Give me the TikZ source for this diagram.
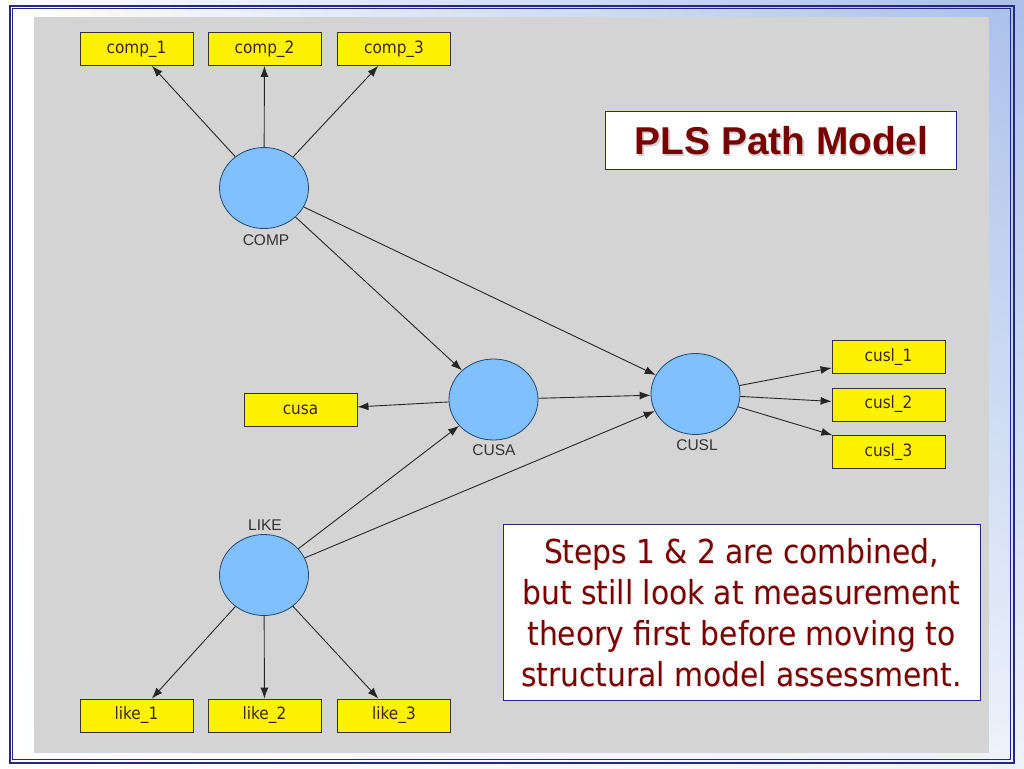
\documentclass[tikz,border=0pt]{standalone}
\usepackage{fontspec}
\setmainfont{Liberation Sans}
\newfontfamily\tah{DejaVu Sans Condensed}
\usetikzlibrary{arrows.meta,shapes.geometric,shadings}
\definecolor{navy}{RGB}{40,40,125}
\definecolor{panel}{RGB}{212,212,212}
\definecolor{darkred}{RGB}{120,0,0}
\definecolor{latent}{RGB}{128,192,255}
\definecolor{latentline}{RGB}{30,70,110}
\definecolor{slideblue}{RGB}{170,192,234}
\definecolor{itemtext}{RGB}{60,40,0}
\tikzset{
 item/.style={draw=black!80, line width=0.8pt, fill=yellow, minimum width=113pt, minimum height=33pt, inner sep=0pt, font=\tah\fontsize{17}{20}\selectfont, text=itemtext},
 lv/.style={ellipse, draw=latentline, line width=0.8pt, fill=latent, minimum width=89pt, minimum height=81pt, inner sep=0pt},
 lvlabel/.style={font=\fontsize{15.5}{18}\selectfont, text=black!80, inner sep=0pt},
 link/.style={draw=black!85, line width=0.9pt, -{Latex[length=11pt,width=8pt]}},
 notebox/.style={draw=navy, line width=1pt, fill=white},
}
\begin{document}
\begin{tikzpicture}[x=1pt,y=-1pt]
\useasboundingbox (0,0) rectangle (1024,768);
% slide background
\shade[upper left=white, upper right=slideblue, lower left=white, lower right=white!80!slideblue] (0,0) rectangle (1024,768);
\fill[white, opacity=0.6] (12.5,8) rectangle (34,759.5);
\draw[navy, line width=2pt] (10,6) rectangle (1013.5,762.5);
\draw[navy, line width=1pt] (12.5,8.5) rectangle (1010.5,759.5);
% panel
\fill[panel] (34,17) rectangle (989,753);

% title box
\draw[notebox] (605,111) rectangle (956,169);
\node[text=black!18, font=\bfseries\fontsize{38.8}{44}\selectfont, inner sep=0pt] (titleshadow) at (783,142.5) {PLS Path Model};
\node[text=darkred, font=\bfseries\fontsize{38.8}{44}\selectfont, inner sep=0pt] (title) at (781.5,141) {PLS Path Model};

% note box
\draw[notebox] (503,524) rectangle (980,700);
\node[text=black!12, font=\tah\fontsize{33}{41}\selectfont, align=center, inner sep=0pt] (noteshadow) at (742.5,613.5) {Steps 1 \& 2 are combined,\\but still look at measurement\\theory first before moving to\\structural model assessment.};
\node[text=darkred, font=\tah\fontsize{33}{41}\selectfont, align=center, inner sep=0pt] (note) at (741.5,612.5) {Steps 1 \& 2 are combined,\\but still look at measurement\\theory first before moving to\\structural model assessment.};

% indicators
\node[item] (comp1) at (136.5,49) {comp\_1};
\node[item] (comp2) at (264.5,49) {comp\_2};
\node[item] (comp3) at (394,49) {comp\_3};
\node[item] (like1) at (136.5,715.5) {like\_1};
\node[item] (like2) at (264.5,715.5) {like\_2};
\node[item] (like3) at (394,715.5) {like\_3};
\node[item] (cusa) at (300.5,410) {cusa};
\node[item] (cusl1) at (888.5,357) {cusl\_1};
\node[item] (cusl2) at (888.5,404.5) {cusl\_2};
\node[item] (cusl3) at (888.5,452) {cusl\_3};

% latent variables
\node[lv] (COMP) at (264,188) {};
\node[lv] (CUSA) at (493.5,399.5) {};
\node[lv] (CUSL) at (695.5,394) {};
\node[lv] (LIKE) at (264,575) {};
\node[lvlabel] (lcomp) at (266,240) {COMP};
\node[lvlabel] (lcusa) at (494,450) {CUSA};
\node[lvlabel] (lcusl) at (697,445) {CUSL};
\node[lvlabel] (llike) at (265,525) {LIKE};

% paths
\draw[link] (COMP) -- (comp1);
\draw[link] (COMP) -- (comp2);
\draw[link] (COMP) -- (comp3);
\draw[link] (COMP) -- (CUSA);
\draw[link] (COMP) -- (CUSL);
\draw[link] (CUSA) -- (cusa);
\draw[link] (CUSA) -- (CUSL);
\draw[link] (LIKE) -- (CUSA);
\draw[link] (LIKE) -- (CUSL);
\draw[link] (LIKE) -- (like1);
\draw[link] (LIKE) -- (like2);
\draw[link] (LIKE) -- (like3);
\draw[link] (CUSL) -- (cusl1);
\draw[link] (CUSL) -- (cusl2);
\draw[link] (CUSL) -- (cusl3);
\end{tikzpicture}
\end{document}
